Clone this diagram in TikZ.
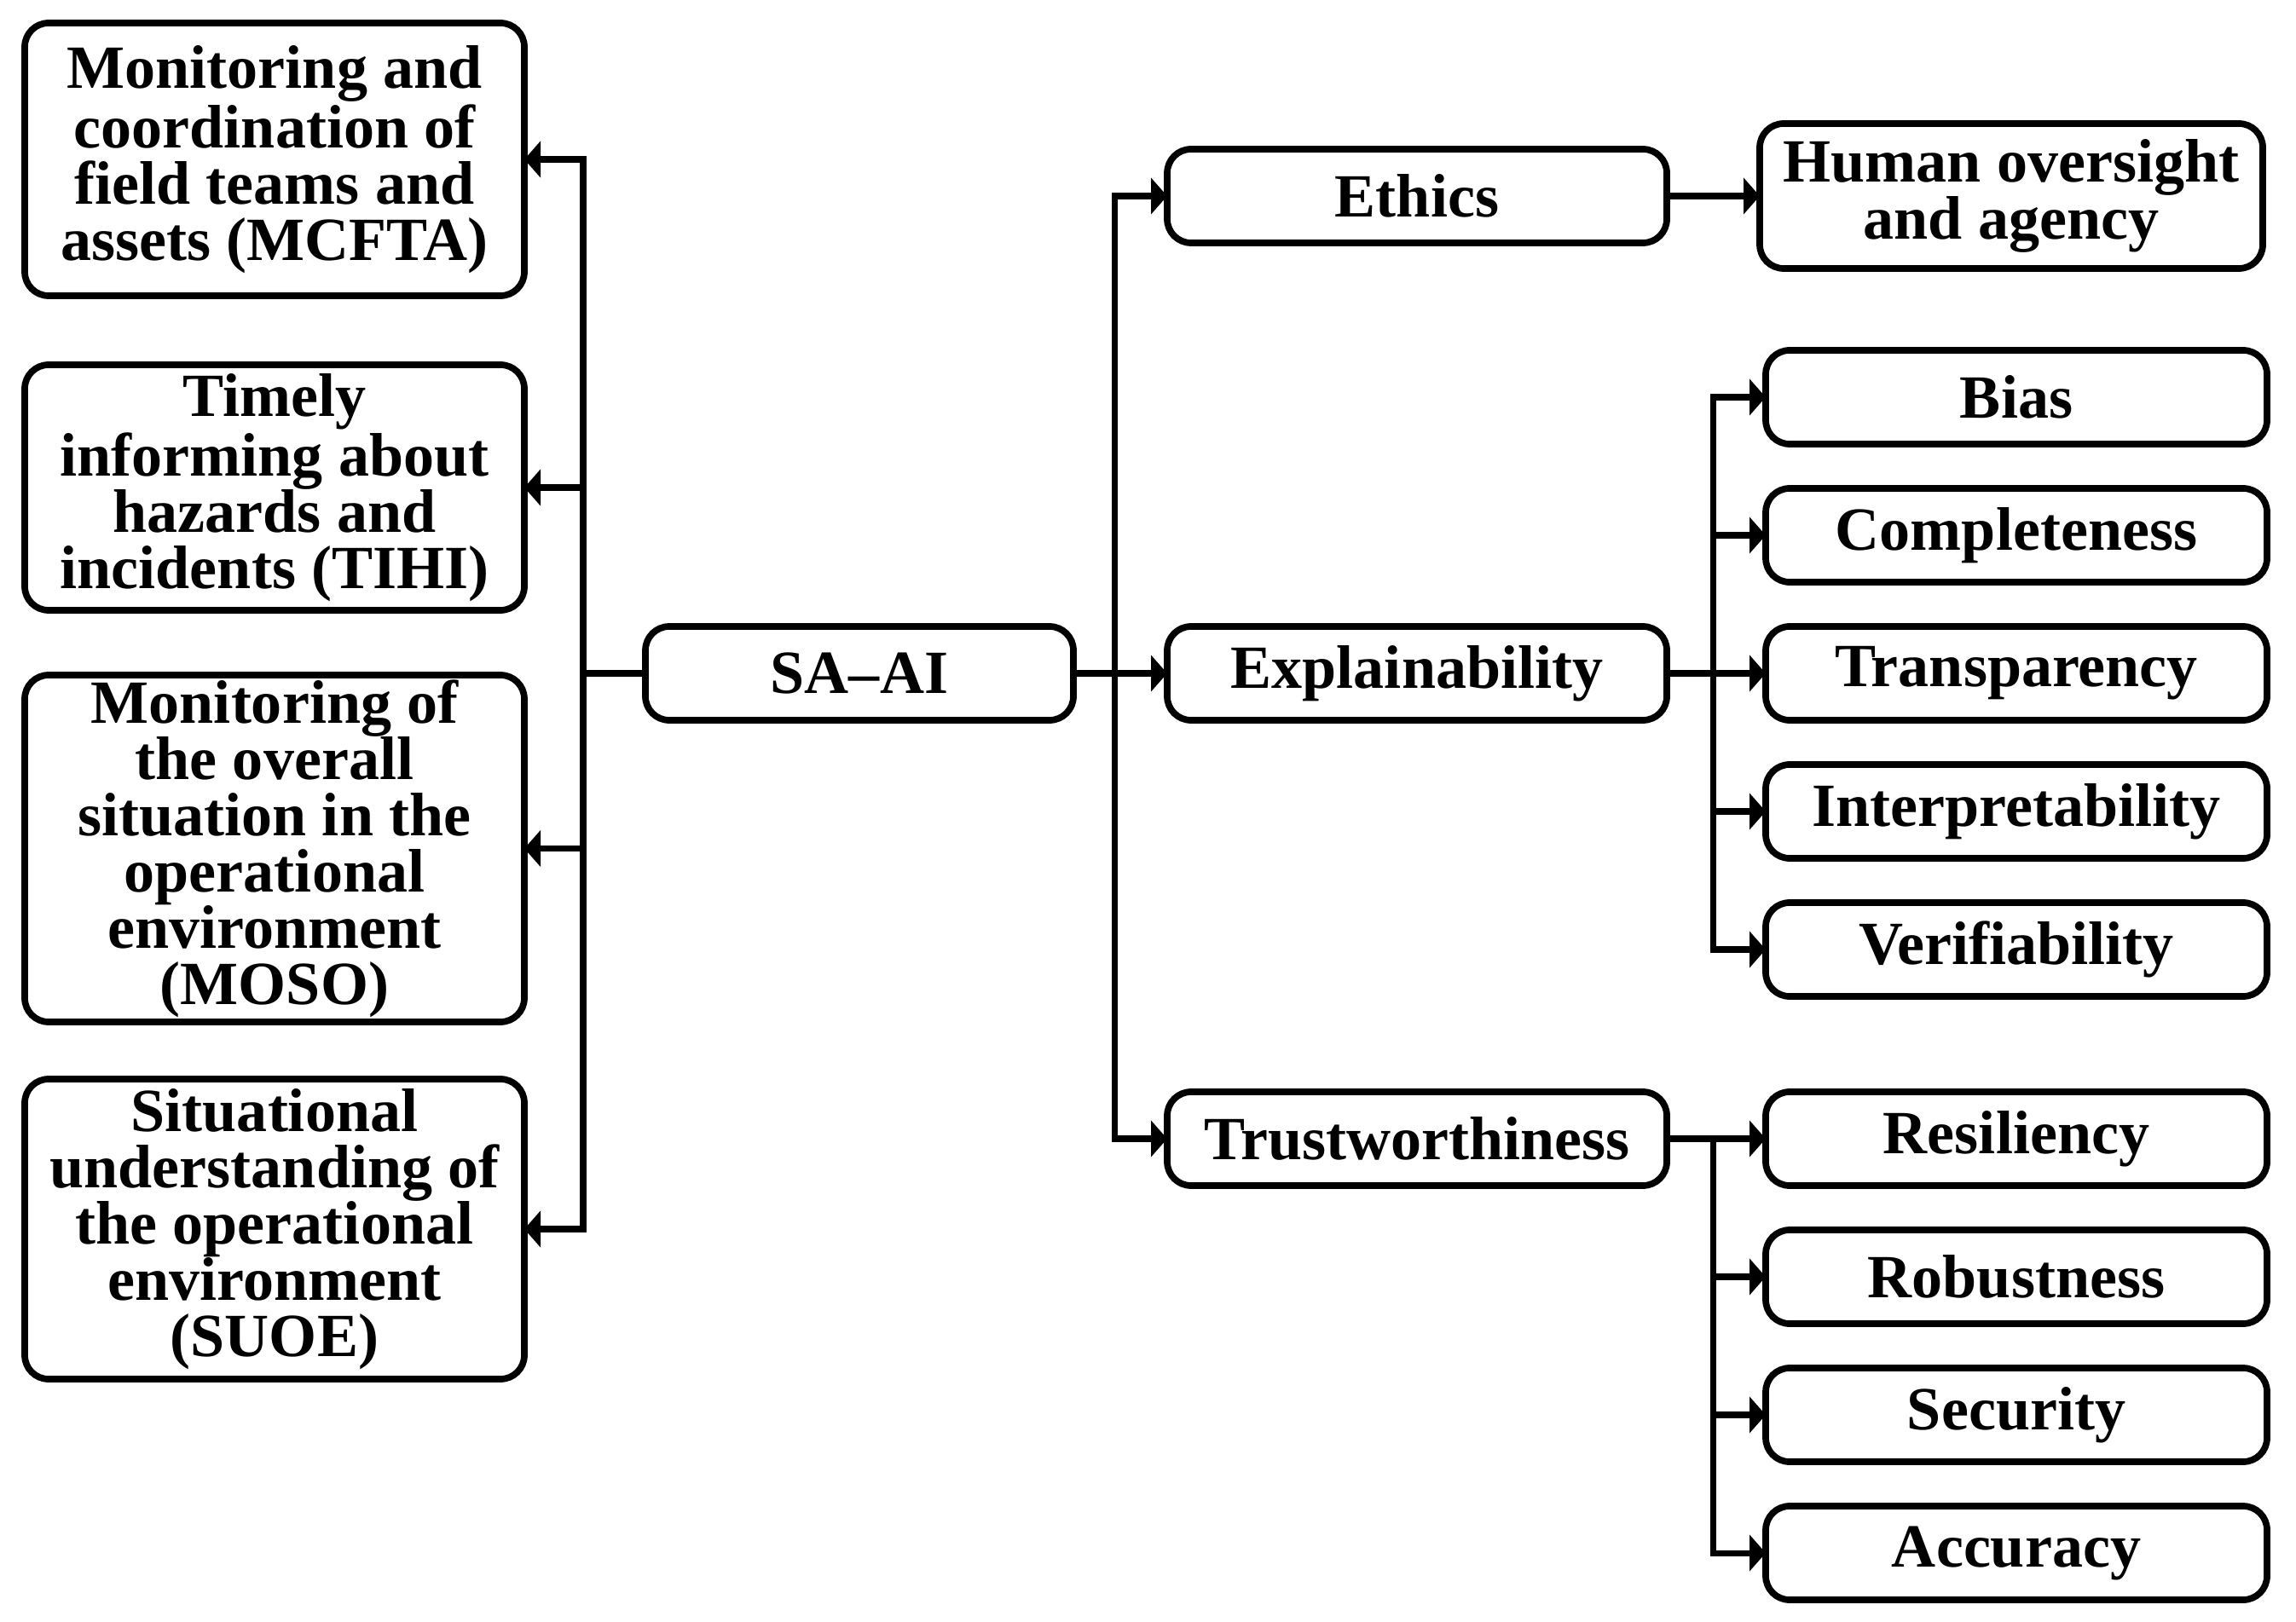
\documentclass[tikz,border=0pt]{standalone}
\usepackage{fontspec}
\newfontfamily\boxfont{Liberation Serif}[Ligatures=TeX]
\usepackage{tikz}
\usetikzlibrary{positioning,calc,arrows.meta}

\begin{document}
\begin{tikzpicture}[node distance=0.52cm, >={Triangle[length=0.19cm,width=0.42cm]},
  block/.style={rectangle, rounded corners=0.28cm, draw=black, line width=2.2pt, outer sep=0pt, minimum width=5.86cm, minimum height=1.10cm, inner sep=1pt, align=center, font=\boxfont\bfseries\fontsize{20.5}{18.8}\selectfont},
  leaf/.style={block, minimum width=5.88cm},
  link/.style={line width=2pt},
  arrow/.style={->, line width=2pt}]

  \useasboundingbox (0,0) rectangle (26.93,-19.03);

  % centre and middle column
  \node [block, minimum width=5.02cm] (saai) at (10.08,-7.90) {SA--AI};
  \node [block, right=1.10cm of saai] (expl) {Explainability};
  \node [block, above=4.50cm of expl] (ethics) {Ethics};
  \node [block, below=4.36cm of expl] (trust) {Trustworthiness};

  % left column
  \node [block, minimum height=2.88cm, left=1.42cm of saai, yshift=2.18cm] (tihi) {Timely\\ informing about\\ hazards and\\ incidents (TIHI)};
  \node [block, minimum height=3.20cm, above=0.81cm of tihi] (mcfta) {Monitoring and\\ coordination of\\ field teams and\\ assets (MCFTA)};
  \node [block, minimum height=4.07cm, below=0.76cm of tihi] (moso) {Monitoring of\\ the overall\\ situation in the\\ operational\\ environment\\ (MOSO)};
  \node [block, minimum height=3.52cm, below=0.67cm of moso] (suoe) {Situational\\ understanding of\\ the operational\\ environment\\ (SUOE)};

  % right column
  \node [block, minimum width=5.90cm, minimum height=1.70cm, right=1.09cm of ethics] (human) {Human oversight\\ and agency};
  \node [leaf, right=1.16cm of expl] (transp) {Transparency};
  \node [leaf, above=of transp] (compl) {Completeness};
  \node [leaf, above=of compl] (bias) {Bias};
  \node [leaf, below=of transp] (interp) {Interpretability};
  \node [leaf, below=of interp] (verif) {Verifiability};
  \node [leaf, right=1.16cm of trust] (resil) {Resiliency};
  \node [leaf, below=of resil] (robust) {Robustness};
  \node [leaf, below=of robust] (secur) {Security};
  \node [leaf, below=of secur] (accur) {Accuracy};

  % bus points
  \coordinate (lbus) at ($(saai.west)+(-0.73,0)$);
  \coordinate (mbus) at ($(saai.east)+(0.48,0)$);
  \coordinate (xbus) at ($(expl.east)+(0.54,0)$);
  \coordinate (tbus) at ($(trust.east)+(0.54,0)$);

  \draw [link] (saai) -- (lbus);
  \foreach \n in {mcfta,tihi,moso,suoe}
    \draw [arrow] (lbus) |- (\n);

  \draw [arrow] (saai) -- (expl);
  \draw [arrow] (mbus) |- (ethics);
  \draw [arrow] (mbus) |- (trust);

  \draw [arrow] (ethics) -- (human);

  \draw [arrow] (expl) -- (transp);
  \foreach \n in {bias,compl,interp,verif}
    \draw [arrow] (xbus) |- (\n);

  \draw [arrow] (trust) -- (resil);
  \foreach \n in {robust,secur,accur}
    \draw [arrow] (tbus) |- (\n);
\end{tikzpicture}
\end{document}
